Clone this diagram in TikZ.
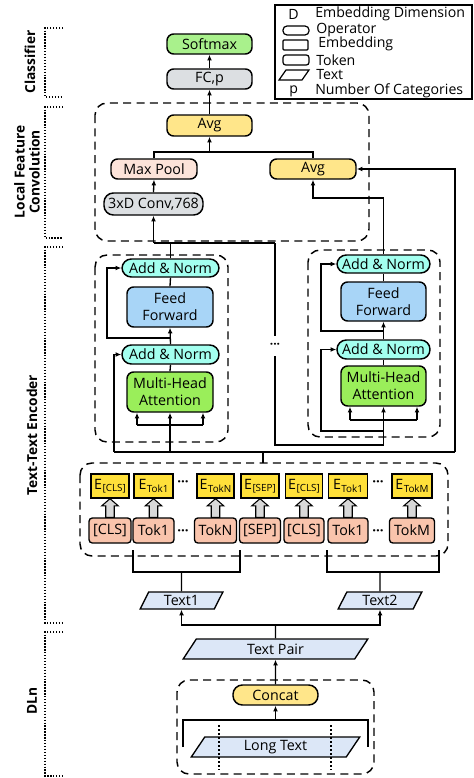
\documentclass[tikz,border=0pt]{standalone}
\usepackage{fontspec}
\setmainfont{Open Sans}
\usetikzlibrary{arrows.meta,shapes.geometric,calc}
\definecolor{csoft}{HTML}{A9F18C}
\definecolor{cgray}{HTML}{DCDFE2}
\definecolor{cyel}{HTML}{FFE68A}
\definecolor{cpink}{HTML}{FCE3D9}
\definecolor{ccyan}{HTML}{A3FFEF}
\definecolor{cblue}{HTML}{A8D5F7}
\definecolor{cmha}{HTML}{9AEE5A}
\definecolor{cgold}{HTML}{FFE03A}
\definecolor{ctok}{HTML}{F9C4AC}
\definecolor{ctxt}{HTML}{DCE7F7}
\definecolor{cblk}{HTML}{D8D8D8}
\newcommand\Esub[1]{E\kern0.3pt\raisebox{-0.3ex}{\fontsize{7.4}{8}\selectfont #1}}
\begin{document}
\begin{tikzpicture}[x=0.75pt,y=-0.75pt,
  txt/.style={font=\fontsize{10.7}{12.8}\selectfont},
  box/.style={txt,draw,line width=1.1pt,rounded corners=5pt,inner sep=0pt,align=center},
  sz/.style 2 args={minimum width=#1*0.75pt,minimum height=#2*0.75pt},
  ebox/.style={txt,draw,line width=1pt,fill=cgold,inner sep=0pt,minimum height=24*0.75pt},
  tbox/.style={txt,draw,line width=1pt,fill=ctok,rounded corners=2.5pt,inner sep=0pt,minimum height=25*0.75pt},
  para/.style={txt,draw,line width=1pt,fill=ctxt,trapezium,trapezium left angle=66,trapezium right angle=114,trapezium stretches=true,inner sep=0pt},
  ln/.style={line width=1pt},
  arr/.style={line width=1pt,-{Latex[length=4.2pt,width=3.6pt]}},
  dbox/.style={line width=1.1pt,dash pattern=on 6pt off 4pt,rounded corners=9pt},
  brk/.style={line width=0.9pt,dash pattern=on 1pt off 1.2pt},
  blk/.style={draw,line width=0.8pt,fill=cblk},
  lbl/.style={font=\bfseries\fontsize{10.3}{11.4}\selectfont,rotate=90,align=center},
  legt/.style={font=\fontsize{10.6}{11}\selectfont,anchor=west,inner sep=0pt}]
\useasboundingbox (0,0) rectangle (474,778);

% ---------- legend ----------
\node[draw,line width=1pt,sz={197}{94}] (leg) at (373.5,52) {};
\node[legt] (lD) at (288,14) {D};
\node[legt] (lDt) at (315,14) {Embedding Dimension};
\draw[line width=0.9pt,rounded corners=3pt] (283,26) rectangle (309,35);
\node[legt] (lop) at (316,30) {Operator};
\draw[line width=0.9pt,rounded corners=0.8pt] (283,40) rectangle (308,50);
\node[legt] (lem) at (318,44) {Embedding};
\draw[line width=0.9pt,rounded corners=2pt] (283,55) rectangle (309,65);
\node[legt] (ltk) at (316,60) {Token};
\draw[line width=0.9pt] (279,80) -- (286,70) -- (309,70) -- (302,80) -- cycle;
\node[legt] (ltx) at (316,75) {Text};
\node[legt] (lp) at (289,91) {p};
\node[legt] (lpt) at (315,91) {Number Of Categories};

% ---------- left brackets ----------
\draw[brk] (63,28) -- (45,28) -- (45,97) -- (63,97);
\draw[brk] (63,107) -- (45,107) -- (45,238) -- (63,238);
\draw[brk] (63,247) -- (45,247) -- (45,623) -- (63,623);
\draw[brk] (63,632) -- (45,632) -- (45,776) -- (63,776);
\node[lbl] (Lc) at (30,62) {Classifier};
\node[lbl] (Ll) at (27,172) {Local Feature\\Convolution};
\node[lbl] (Le) at (32,435) {Text-Text Encoder};
\node[lbl] (Ld) at (32,701) {DLn};

% ---------- classifier & convolution ----------
\node[box,fill=csoft,sz={85}{20}] (softmax) at (209.5,44) {Softmax};
\node[box,fill=cgray,sz={85}{20}] (fc) at (209.5,79) {FC,p};
\draw[dbox] (95,103) rectangle (369,241);
\node[box,fill=cyel,sz={85}{21}] (avg1) at (209.5,125.5) {Avg};
\node[box,fill=cpink,sz={86}{20}] (maxpool) at (154,169) {Max Pool};
\node[box,fill=cyel,sz={86}{20}] (avg2) at (313,169) {Avg};
\node[box,fill=cgray,sz={99}{22},rounded corners=7pt] (conv) at (153.5,204) {3xD Conv,768};

\draw[arr] (fc.north) -- (softmax.south);
\draw[arr] (avg1.north) -- (fc.south);
\coordinate (j1) at (209.5,152);
\draw[ln] (maxpool.north) |- (j1) -| (avg2.north);
\draw[arr] (j1) -- (avg1.south);
\draw[arr] (conv.north) -- (maxpool.south);

% ---------- left encoder ----------
\draw[dbox] (95,255) rectangle (228,442);
\node[box,fill=ccyan,sz={97}{18},rounded corners=7pt] (an1t) at (170.5,268) {Add \& Norm};
\node[box,fill=cblue,sz={86}{40}] (ff1) at (170,307) {Feed\\Forward};
\node[box,fill=ccyan,sz={97}{19},rounded corners=7pt] (an1b) at (170.5,354.5) {Add \& Norm};
\node[box,fill=cmha,sz={86}{40}] (mha1) at (170,392) {Multi-Head\\Attention};

% ---------- right encoder ----------
\draw[dbox] (308,250) rectangle (440,437);
\node[box,fill=ccyan,sz={93}{18},rounded corners=7pt] (an2t) at (383.5,264) {Add \& Norm};
\node[box,fill=cblue,sz={85}{39}] (ff2) at (383.5,301.5) {Feed\\Forward};
\node[box,fill=ccyan,sz={93}{19},rounded corners=7pt] (an2b) at (383.5,349.5) {Add \& Norm};
\node[box,fill=cmha,sz={85}{40}] (mha2) at (383.5,386) {Multi-Head\\Attention};

% left encoder wiring
\draw[ln] (mha1.north) -- (an1b.south);
\draw[arr] (an1b.north) -- (ff1.south);
\draw[ln] (ff1.north) -- (an1t.south);
\coordinate (r1b) at (170,338);
\draw[arr] (r1b) -| (107,268) -- (an1t.west);
\coordinate (eb) at (263,452);
\coordinate (eo) at (263,463);
\coordinate (bl) at (114,452);
\coordinate (br) at (455,452);
\coordinate (bm) at (170,452);
\draw[ln] (eo) -- (eb);
\draw[ln] (bl) -- (br);
\draw[arr] (bl) |- (an1b.west);
\draw[arr] (br) |- (avg2.east);
\draw[arr] (bm) -- (mha1.south);
\coordinate (b1l) at (137,425);
\coordinate (b1r) at (203,425);
\draw[ln] (b1l) -- (b1r);
\draw[arr] (b1l) -- (b1l |- mha1.south);
\draw[arr] (b1r) -- (b1r |- mha1.south);
% left output
\coordinate (o1) at (170.5,243);
\coordinate (c1) at (153.5,243);
\coordinate (c2) at (275,243);
\draw[ln] (an1t.north) -- (o1);
\draw[arr] (c1) -- (conv.south);
\draw[ln] (c1) -- (c2);
\node[inner sep=0pt,minimum height=20*0.75pt,font=\bfseries\fontsize{9}{9}\selectfont] (vd) at (275,346) {···};
\draw[ln] (c2) -- (vd.north);
\coordinate (in2) at (383.5,445);
\draw[ln] (vd.south) |- (in2);

% right encoder wiring
\draw[arr] (in2) -- (mha2.south);
\coordinate (b2l) at (350,420);
\coordinate (b2r) at (417,420);
\draw[ln] (b2l) -- (b2r);
\draw[arr] (b2l) -- (b2l |- mha2.south);
\draw[arr] (b2r) -- (b2r |- mha2.south);
\draw[ln] (mha2.north) -- (an2b.south);
\draw[arr] (an2b.north) -- (ff2.south);
\draw[ln] (ff2.north) -- (an2t.south);
\coordinate (r2a) at (383.5,431);
\draw[arr] (r2a) -| (321,349.5) -- (an2b.west);
\coordinate (r2b) at (383.5,331);
\draw[arr] (r2b) -| (321,264) -- (an2t.west);
\coordinate (o2) at (313,198);
\draw[arr] (an2t.north) |- (o2) -- (avg2.south);

% ---------- embeddings ----------
\draw[dbox] (80,463) rectangle (448,556);
\node[ebox,minimum width=38*0.75pt] (e1) at (110,486) {\Esub{[CLS]}};
\node[ebox,minimum width=39*0.75pt] (e2) at (153.5,486) {\Esub{Tok1}};
\node[ebox,minimum width=37*0.75pt] (e3) at (215.5,486) {\Esub{TokN}};
\node[ebox,minimum width=38*0.75pt] (e4) at (260,486) {\Esub{[SEP]}};
\node[ebox,minimum width=37*0.75pt] (e5) at (304,486) {\Esub{[CLS]}};
\node[ebox,minimum width=39*0.75pt] (e6) at (348,486) {\Esub{Tok1}};
\node[ebox,minimum width=40*0.75pt] (e7) at (412,486) {\Esub{TokM}};
\node[tbox,minimum width=42*0.75pt] (t1) at (110,530.5) {[CLS]};
\node[tbox,minimum width=41*0.75pt] (t2) at (153.5,530.5) {Tok1};
\node[tbox,minimum width=42*0.75pt] (t3) at (215.5,530.5) {TokN};
\node[tbox,minimum width=41*0.75pt] (t4) at (260,530.5) {[SEP]};
\node[tbox,minimum width=40*0.75pt] (t5) at (304,530.5) {[CLS]};
\node[tbox,minimum width=40*0.75pt] (t6) at (348,530.5) {Tok1};
\node[tbox,minimum width=45*0.75pt] (t7) at (412,530.5) {TokM};
\node[txt,font=\bfseries] (ed1) at (183,484) {···};
\node[txt,font=\bfseries] (ed2) at (378,484) {···};
\node[txt,font=\bfseries] (td1) at (183,533) {···};
\node[txt,font=\bfseries] (td2) at (378,533) {···};
\foreach \i in {1,...,7}{
  \draw[blk] ([xshift=-3.2pt]t\i.north) -- ([xshift=-3.2pt,yshift=8.6pt]t\i.north)
    -- ([xshift=-6.2pt,yshift=8.6pt]t\i.north) -- (e\i.south)
    -- ([xshift=6.2pt,yshift=8.6pt]t\i.north) -- ([xshift=3.2pt,yshift=8.6pt]t\i.north)
    -- ([xshift=3.2pt]t\i.north) -- cycle;
}
\draw[ln] (133,550) |- (240,572) -- (240,550);
\draw[ln] (327,550) |- (439,572) -- (439,550);

% ---------- texts ----------
\node[para,sz={83}{17}] (text1) at (181.5,600.5) {Text1};
\node[para,sz={84}{17}] (text2) at (380,600.5) {Text2};
\coordinate (k1) at (181.5,572);
\coordinate (k2) at (380,572);
\draw[ln] (k1) -- (text1.north);
\draw[ln] (k2) -- (text2.north);
\node[para,sz={185}{20}] (textpair) at (275.5,649) {Text Pair};
\coordinate (tp) at (275.5,625);
\draw[ln] (textpair.north) -- (tp);
\draw[arr] (tp) -| (text1.south);
\draw[arr] (tp) -| (text2.south);

% ---------- DLn ----------
\draw[dbox] (177,680) rectangle (374,774);
\node[box,fill=cyel,sz={85}{20},rounded corners=7pt] (concat) at (275.5,695) {Concat};
\node[para,sz={169}{20}] (longtext) at (275.5,747) {Long Text};
\draw[arr] (concat.north) -- (textpair.south);
\coordinate (lt) at (275.5,720);
\draw[ln] (183,747) |- (368,720) -- (368,747);
\draw[arr] (lt) -- (concat.south);
\draw[line width=0.8pt,dash pattern=on 1.5pt off 1.5pt] (219,725) -- (219,770);
\draw[line width=0.8pt,dash pattern=on 1.5pt off 1.5pt] (331,725) -- (331,770);
\end{tikzpicture}
\end{document}
